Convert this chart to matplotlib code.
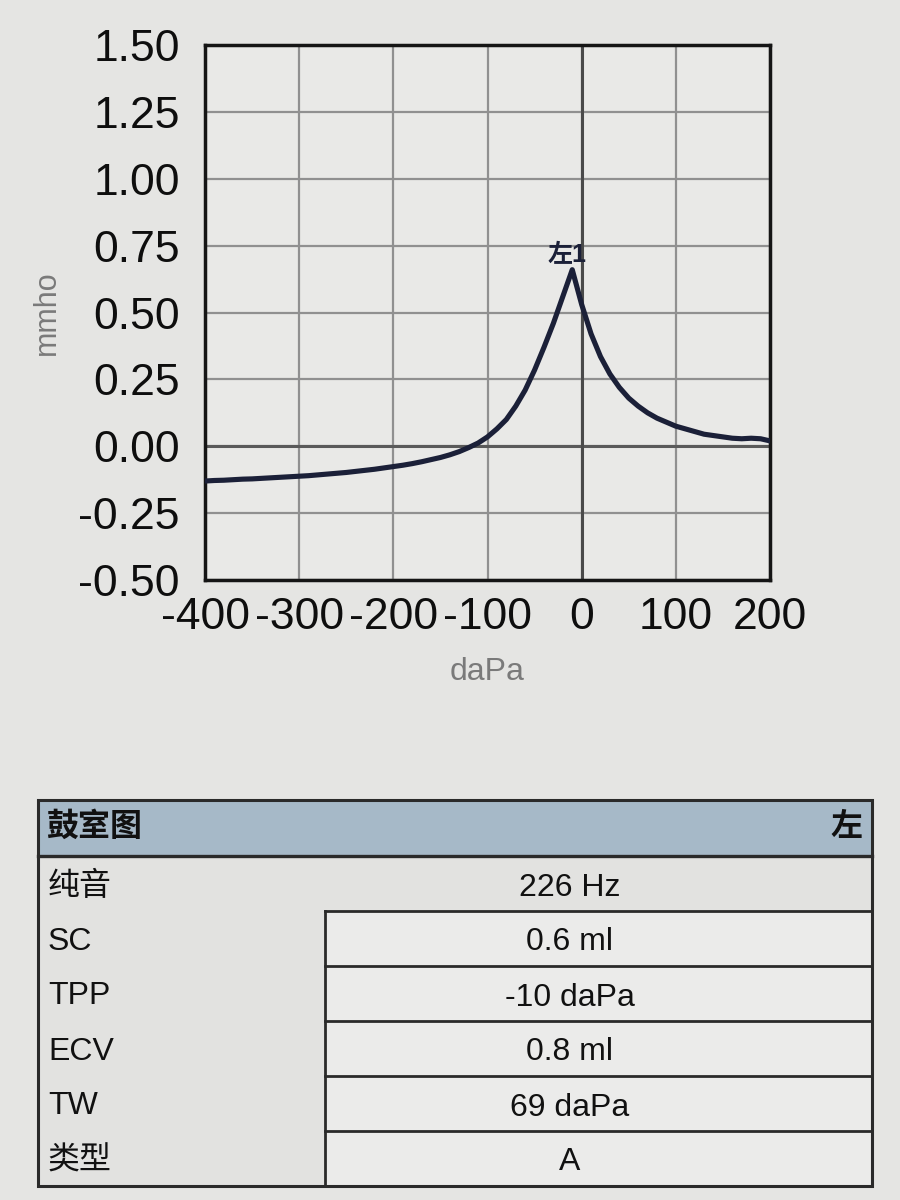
import numpy as np
import matplotlib.pyplot as plt
from matplotlib.patches import Rectangle

plt.rcParams['font.family'] = ['Liberation Sans', 'Noto Sans CJK SC', 'DejaVu Sans']
plt.rcParams['axes.unicode_minus'] = False

# tympanogram curve (daPa vs mmho)
pressure = np.arange(-400, 201, 10)
admittance = [-0.130, -0.128, -0.127, -0.125, -0.123, -0.122, -0.120, -0.118, -0.116, -0.114,
              -0.112, -0.110, -0.107, -0.104, -0.101, -0.098, -0.094, -0.090, -0.086, -0.081,
              -0.076, -0.071, -0.065, -0.058, -0.050, -0.042, -0.032, -0.020, -0.005, 0.012,
              0.035, 0.065, 0.100, 0.150, 0.210, 0.285, 0.370, 0.460, 0.560, 0.660,
              0.530, 0.420, 0.335, 0.270, 0.220, 0.180, 0.150, 0.125, 0.105, 0.090,
              0.075, 0.065, 0.055, 0.045, 0.040, 0.035, 0.030, 0.028, 0.030, 0.028,
              0.020]
peak_label = '左1'
xticks = [-400, -300, -200, -100, 0, 100, 200]
yticks = [-0.5, -0.25, 0.0, 0.25, 0.5, 0.75, 1.0, 1.25, 1.5]

# result table
table_title = '鼓室图'
table_side = '左'
row_names = ['纯音', 'SC', 'TPP', 'ECV', 'TW', '类型']
row_values = ['226 Hz', '0.6 ml', '-10 daPa', '0.8 ml', '69 daPa', 'A']

page_bg = '#e5e5e3'
ink = '#1b2038'

fig = plt.figure(figsize=(9, 12), dpi=100)
fig.patch.set_facecolor(page_bg)

# ---- chart ----
ax = fig.add_axes([205/900, 1 - 580/1200, 565/900, 535/1200])
ax.set_facecolor('#e9e9e7')
ax.plot(pressure, admittance, color=ink, lw=3.7, solid_capstyle='round',
        solid_joinstyle='round', zorder=4)
ax.set_xlim(-400, 200)
ax.set_ylim(-0.5, 1.5)
ax.set_xticks(xticks)
ax.set_yticks(yticks)
ax.set_xticklabels([str(v) for v in xticks])
ax.set_yticklabels(['%.2f' % v for v in yticks])
ax.grid(True, color='#909090', lw=1.6)
ax.axhline(0, color='#5a5a5a', lw=2.2, zorder=2)
ax.axvline(0, color='#4a4a4a', lw=2.2, zorder=2)
ax.tick_params(length=0, labelsize=32, colors='#0e0e0e')
ax.tick_params(axis='y', pad=18)
ax.tick_params(axis='x', pad=12)
for s in ax.spines.values():
    s.set_color('#151515')
    s.set_linewidth(2.5)
ax.set_xlabel('daPa', fontsize=23, color='#7a7a7a', labelpad=14)
ax.set_ylabel('mmho', fontsize=22, color='#7a7a7a', labelpad=12)

i_peak = int(np.argmax(admittance))
ax.text(pressure[i_peak] - 6, admittance[i_peak] + 0.01, peak_label, ha='center', va='bottom',
        fontsize=18, fontweight='bold', color=ink, zorder=5)

# ---- table (pixel coordinates overlay) ----
tb = fig.add_axes([0, 0, 1, 1])
tb.set_xlim(0, 900)
tb.set_ylim(1200, 0)
tb.axis('off')

left, right, top = 38, 872, 800
header_h = 56
row_h = 55
split_x = 325
bottom = top + header_h + row_h * len(row_names)

tb.add_patch(Rectangle((left, top), right - left, header_h, facecolor='#a6b9c8',
                       edgecolor='none'))
tb.add_patch(Rectangle((left, top + header_h), right - left, bottom - top - header_h,
                       facecolor='#e2e2e0', edgecolor='none'))
tb.add_patch(Rectangle((split_x, top + header_h + row_h), right - split_x,
                       row_h * (len(row_names) - 1), facecolor='#ebebea', edgecolor='none'))
tb.add_patch(Rectangle((left, top), right - left, bottom - top, facecolor='none',
                       edgecolor='#2a2a2a', lw=2.2))
tb.plot([left, right], [top + header_h] * 2, color='#2a2a2a', lw=2.4)
for k in range(1, len(row_names)):
    yy = top + header_h + row_h * k
    tb.plot([split_x, right], [yy, yy], color='#2a2a2a', lw=2.0)
tb.plot([split_x, split_x], [top + header_h + row_h, bottom], color='#2a2a2a', lw=2.0)

tb.text(left + 8, top + header_h / 2, table_title, ha='left', va='center', fontsize=23,
        fontweight='bold', color='#111111')
tb.text(right - 10, top + header_h / 2, table_side, ha='right', va='center', fontsize=23,
        fontweight='bold', color='#111111')
for k, (name, val) in enumerate(zip(row_names, row_values)):
    yc = top + header_h + row_h * k + row_h / 2
    tb.text(left + 10, yc + 3, name, ha='left', va='center', fontsize=23, color='#111111')
    tb.text(570, yc + 4, val, ha='center', va='center', fontsize=23, color='#111111')

fig.savefig('out.png', dpi=100, facecolor=page_bg)
